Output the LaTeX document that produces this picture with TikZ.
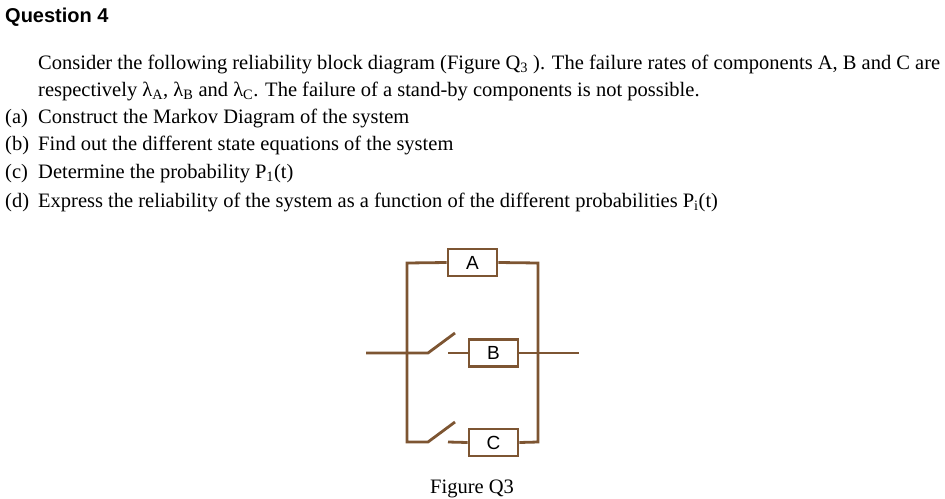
\documentclass[tikz,border=0pt]{standalone}
\usepackage{fontspec}
\setmainfont{Liberation Serif}
\newfontfamily\arialf{Liberation Sans}
\definecolor{brn}{RGB}{125,85,50}
\begin{document}
\begin{tikzpicture}[x=1pt,y=-1pt,
  txt/.style={anchor=base west,inner sep=0pt,font=\fontsize{20.5}{22}\selectfont},
  wire/.style={draw=brn,line width=2.8pt},
  comp/.style={draw=brn,line width=2.8pt,fill=white,minimum width=49pt,minimum height=27pt,inner sep=0pt,font=\arialf\fontsize{19}{20}\selectfont}]
\useasboundingbox (0,0) rectangle (945,498);
\node[anchor=base west,inner sep=0pt,font=\arialf\bfseries\fontsize{20}{22}\selectfont] (title) at (5,22) {Question 4};
\node[txt] (l1) at (38,69) {Consider the following reliability block diagram (Figure Q\textsubscript{3} ). The failure rates of components A, B and C are};
\node[txt] (l2) at (38,96) {respectively λ\textsubscript{A}, λ\textsubscript{B} and λ\textsubscript{C}. The failure of a stand-by components is not possible.};
\node[txt] (ma) at (5,123) {(a)};
\node[txt] (ta) at (38,123) {Construct the Markov Diagram of the system};
\node[txt] (mb) at (5,150) {(b)};
\node[txt] (tb) at (38,150) {Find out the different state equations of the system};
\node[txt] (mc) at (5,178) {(c)};
\node[txt] (tc) at (38,178) {Determine the probability P\textsubscript{1}(t)};
\node[txt] (md) at (5,207) {(d)};
\node[txt] (td) at (38,207) {Express the reliability of the system as a function of the different probabilities P\textsubscript{i}(t)};
% circuit
\coordinate (inL) at (366,353);
\coordinate (jL) at (407,353);
\coordinate (jR) at (538,353);
\coordinate (outR) at (579,353);
\coordinate (tl) at (407,263);
\coordinate (tr) at (538,263);
\coordinate (bl) at (407,442);
\coordinate (br) at (538,442);
\node[comp] (A) at (472.5,262.5) {A};
\node[comp] (B) at (493.5,353) {B};
\node[comp] (C) at (493.5,442.5) {C};
\draw[wire] (inL) -- (jL) -- (428,353) -- (455,333);
\draw[wire] (448,353) -- (B.west);
\draw[wire] (B.east) -- (outR);
\draw[wire] (A.west) -- (tl) -- (bl) -- (428,442) -- (455,422);
\draw[wire] (448,442) -- (C.west);
\draw[wire] (A.east) -- (tr) -- (br) -- (C.east);
\node[anchor=base,inner sep=0pt,font=\fontsize{20.5}{22}\selectfont] (fig) at (472,493) {Figure Q3};
\end{tikzpicture}
\end{document}
